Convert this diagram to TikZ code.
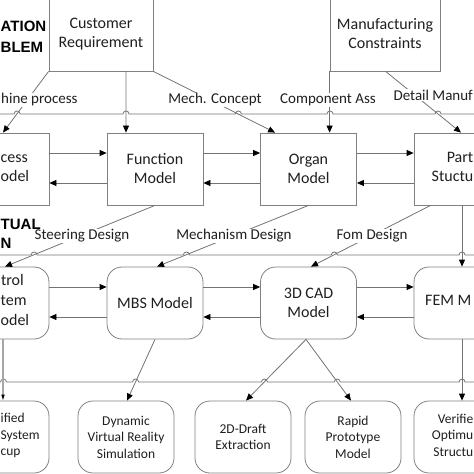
\documentclass[tikz,border=0pt]{standalone}
\usepackage{fontspec}
\setmainfont{Carlito}
\newfontfamily\arialfont{Liberation Sans}
\usetikzlibrary{calc,arrows.meta}
\definecolor{linegray}{gray}{0.45}
\definecolor{boxgray}{gray}{0.5}
\definecolor{txt}{gray}{0.12}
\begin{document}
\begin{tikzpicture}[x=1bp,y=-1bp,
  line/.style={draw=linegray, line width=0.8bp},
  arr/.style={line, -{Triangle[length=7bp,width=6bp,color=black]}},
  thickarr/.style={draw=gray!70, line width=2.6bp, -{Triangle[length=6bp,width=3bp,color=black]}},
  box/.style={draw=boxgray, line width=0.8bp, minimum width=96bp, minimum height=72bp, inner sep=0pt, align=center, font=\fontsize{16bp}{19bp}\selectfont, text=txt},
  rbox/.style={box, rounded corners=15bp},
  sbox/.style={rbox, font=\fontsize{13.5bp}{16.5bp}\selectfont},
  lab/.style={fill=white, inner sep=1bp, font=\fontsize{15bp}{18bp}\selectfont, text=txt},
  frag/.style={inner sep=0pt, text=txt, font=\fontsize{16bp}{19bp}\selectfont, text height=0.7em, text depth=0.2em},
  sfrag/.style={frag, font=\fontsize{13.5bp}{16.5bp}\selectfont},
  side/.style={inner sep=0pt, text=black, font=\arialfont\bfseries\fontsize{15bp}{20bp}\selectfont, text height=0.72em, text depth=0pt},
]
\useasboundingbox (0,0) rectangle (474,474);
\clip (0,0) rectangle (474,474);

% side headings
\node[side, anchor=west] (s1) at (0.5,28) {ATION};
\node[side, anchor=west] (s2) at (0.5,49) {BLEM};
\node[side, anchor=west] (s3) at (0.5,226) {TUAL};
\node[side, anchor=west] (s4) at (0.5,245) {N};

% row 1
\node[box, minimum width=104bp, minimum height=74bp] (cr) at (101,34) {Customer\\Requirement};
\node[box, minimum width=110bp, minimum height=74bp] (mc) at (385,34) {Manufacturing\\Constraints};

% row 2
\node[box] (proc) at (1,169) {};
\node[box] (fn) at (155,169) {Function\\Model};
\node[box] (org) at (308.5,169) {Organ\\Model};
\node[box] (part) at (462,169) {};

% row 3
\node[rbox] (ctrl) at (1,303) {};
\node[rbox] (mbs) at (155,303) {MBS Model};
\node[rbox] (cad) at (308.5,303) {3D CAD\\Model};
\node[rbox] (fem) at (462,303) {};

% row 4
\node[sbox] (vctrl) at (1,437) {};
\node[sbox] (dyn) at (126,437) {Dynamic\\Virtual Reality\\Simulation};
\node[sbox] (draft) at (243,437) {2D-Draft\\Extraction};
\node[sbox] (rapid) at (353,437) {Rapid\\Prototype\\Model};
\node[sbox] (vopt) at (462,437) {};

% visible text of boxes cut by the frame
\node[frag, anchor=west] (t1) at (0.5,160) {cess};
\node[frag, anchor=west] (t2) at (0.5,179) {odel};
\node[frag, anchor=east] (t3) at (473.5,160) {Part};
\node[frag, anchor=east] (t4) at (473.5,179) {Stuctu};
\node[frag, anchor=east] (t5) at (24,283) {trol};
\node[frag, anchor=west] (t6) at (0.5,303) {tem};
\node[frag, anchor=west] (t7) at (0.5,323) {odel};
\node[frag, anchor=west] (t8) at (425,303) {FEM M};
\node[sfrag, anchor=west] (t9) at (0.5,420) {ified};
\node[sfrag, anchor=west] (t10) at (0.5,437) {System};
\node[sfrag, anchor=west] (t11) at (0.5,453) {cup};
\node[sfrag, anchor=east] (t12) at (473.5,421) {Verifie};
\node[sfrag, anchor=east] (t13) at (473.5,437) {Optimu};
\node[sfrag, anchor=east] (t14) at (473.5,454) {Structu};

% bus lines with hops
\draw[line] (0,114) -- (14.1,114) arc[start angle=180,end angle=360,radius=3]
  -- (123,114) arc[start angle=180,end angle=360,radius=3]
  -- (235.4,114) arc[start angle=180,end angle=360,radius=3]
  -- (327,114) arc[start angle=180,end angle=360,radius=3]
  -- (435,114) arc[start angle=180,end angle=360,radius=3]
  -- (474,114);
\draw[line] (0,255) -- (31.1,255) arc[start angle=180,end angle=360,radius=3]
  -- (183.4,255) arc[start angle=180,end angle=360,radius=3]
  -- (331.3,255) arc[start angle=180,end angle=360,radius=3]
  -- (459,255) arc[start angle=180,end angle=360,radius=3]
  -- (474,255);
\draw[line] (0,382) -- (0.5,382) arc[start angle=180,end angle=360,radius=3]
  -- (132.6,382) arc[start angle=180,end angle=360,radius=3]
  -- (261.4,382) arc[start angle=180,end angle=360,radius=3]
  -- (334.2,382) arc[start angle=180,end angle=360,radius=3]
  -- (459,382) arc[start angle=180,end angle=360,radius=3]
  -- (474,382);

% row 1 -> row 2
\draw[arr] (cr.south west) -- ([xshift=2bp]proc.north);
\draw[arr] ([xshift=25bp]cr.south) -- ([xshift=-29bp]fn.north);
\draw[arr] (cr.south east) -- ([xshift=15bp]org.north west);
\draw[arr] (mc.south west) -- (mc.south west |- org.north);
\draw[arr] ([xshift=56bp]mc.south west) -- ([xshift=-1bp]part.north);

% row 2 horizontal
\draw[arr] ([yshift=16bp]proc.east) -- ([yshift=16bp]fn.west);
\draw[arr] ([yshift=-14bp]fn.west) -- ([yshift=-14bp]proc.east);
\draw[arr] ([yshift=16bp]fn.east) -- ([yshift=16bp]org.west);
\draw[arr] ([yshift=-14bp]org.west) -- ([yshift=-14bp]fn.east);
\draw[arr] ([yshift=16bp]org.east) -- ([yshift=16bp]part.west);
\draw[arr] ([yshift=-14bp]part.west) -- ([yshift=-14bp]org.east);

% row 2 -> row 3
\draw[arr] (fn.south) -- ([xshift=4bp]ctrl.north);
\draw[arr] (org.south) -- ([xshift=2bp]mbs.north);
\draw[arr] ([xshift=17bp]part.south west) -- ([xshift=2.5bp]cad.north);
\draw[arr] (part.south) -- (fem.north);

% row 3 horizontal
\draw[arr] ([yshift=16bp]ctrl.east) -- ([yshift=16bp]mbs.west);
\draw[arr] ([yshift=-14bp]mbs.west) -- ([yshift=-14bp]ctrl.east);
\draw[arr] ([yshift=16bp]mbs.east) -- ([yshift=16bp]cad.west);
\draw[arr] ([yshift=-14bp]cad.west) -- ([yshift=-14bp]mbs.east);
\draw[arr] ([yshift=16bp]cad.east) -- ([yshift=16bp]fem.west);
\draw[arr] ([yshift=-14bp]fem.west) -- ([yshift=-14bp]cad.east);

% row 3 -> row 4
\draw[thickarr] ([xshift=2bp]ctrl.south) -- ([xshift=2bp]vctrl.north);
\draw[arr] (mbs.south) -- ([xshift=1bp]dyn.north);
\draw[arr] ([xshift=-2.5bp]cad.south) -- ([xshift=3bp]draft.north);
\draw[arr] ([xshift=-2.5bp]cad.south) -- ([xshift=-2bp]rapid.north);
\draw[arr] (fem.south) -- (vopt.north);

% connector labels
\node[lab, anchor=west] (lmp) at (0,100) {hine process};
\node[lab] (lmc) at (215,100) {Mech. Concept};
\node[lab] (lca) at (328,100) {Component Ass};
\node[lab, anchor=east] (ldm) at (474,95) {Detail Manuf};
\node[lab] (lsd) at (82,236) {Steering Design};
\node[lab] (lmd) at (234,236) {Mechanism Design};
\node[lab] (lfd) at (372,236) {Fom Design};
\end{tikzpicture}
\end{document}
